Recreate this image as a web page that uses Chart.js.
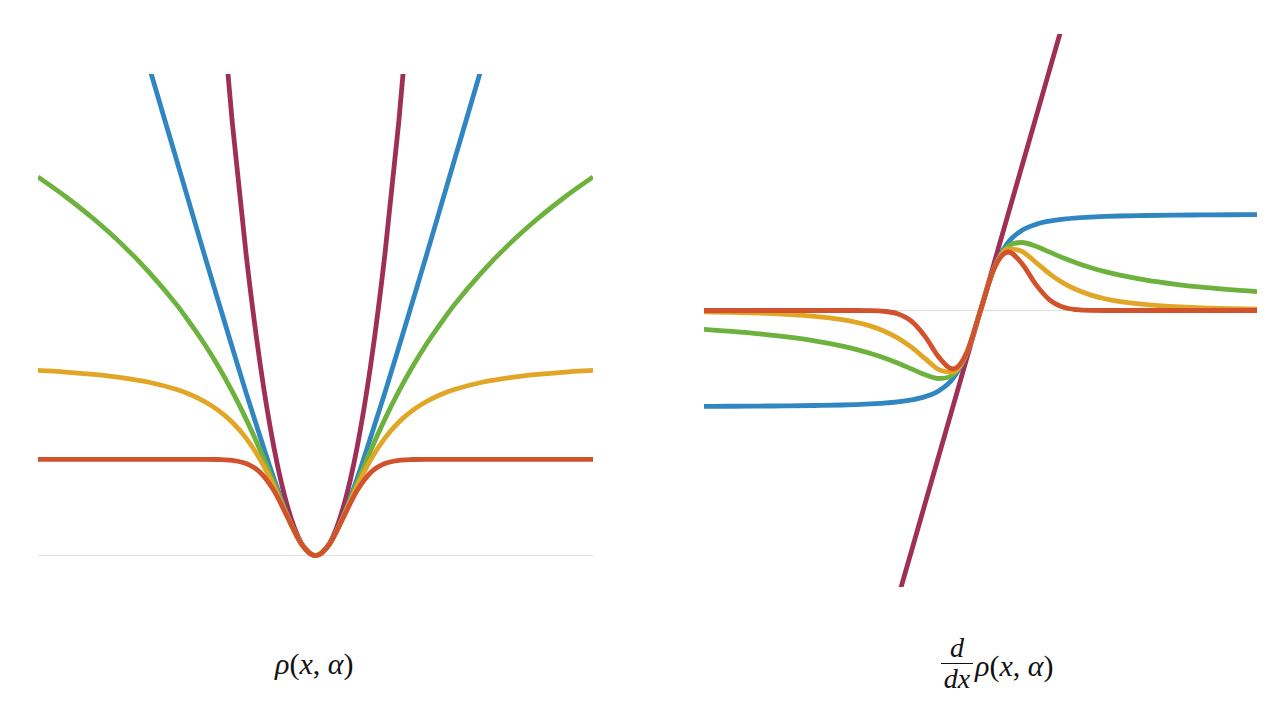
<!DOCTYPE html>
<html>
<head>
<meta charset="utf-8">
<script src="https://cdn.jsdelivr.net/npm/chart.js@4.4.1/dist/chart.umd.min.js"></script>
<style>
  body { margin: 0; background: #fff; width: 1280px; height: 720px; position: relative; overflow: hidden; }
  .plot { position: absolute; }
  .math { position: absolute; font-family: "Liberation Serif", "DejaVu Serif", serif; font-size: 30px; color: #111; white-space: nowrap; line-height: 1; }
  .math i { font-style: italic; }
  .frac { position: absolute; display: flex; flex-direction: column; align-items: center; font-size: 28px; line-height: 0.9; width: 32px; }
  .frac .num { padding: 0 0 3px 0; border-bottom: 1.4px solid #111; width: 100%; text-align: center; }
  .frac .den { padding-top: 2px; }
</style>
</head>
<body>
<div class="plot" style="left:38px; top:74px; width:555px; height:485px;"><canvas id="lossChart"></canvas></div>
<div class="plot" style="left:704px; top:34px; width:553px; height:553px;"><canvas id="derivChart"></canvas></div>
<div class="math" style="left:275px; top:649px;"><i>ρ</i>(<i>x</i>, <i>α</i>)</div>
<div class="math frac" style="left:941px; top:635px;"><span class="num"><i>d</i></span><span class="den"><i>dx</i></span></div>
<div class="math" style="left:975px; top:651px;"><i>ρ</i>(<i>x</i>, <i>α</i>)</div>
<script>
// x positions shared by all curves
const xs = [-10, -9, -8, -7, -6, -5, -4.5, -4, -3.5, -3, -2.5, -2, -1.5, -1, -0.5, 0,
  0.5, 1, 1.5, 2, 2.5, 3, 3.5, 4, 4.5, 5, 6, 7, 8, 9, 10];

// left: rho(x, alpha)
const rhoMagenta = [null, null, null, null, null, null, null, 8, 6.125, 4.5, 3.125, 2, 1.125, 0.5, 0.125, 0,
  0.125, 0.5, 1.125, 2, 3.125, 4.5, 6.125, 8, null, null, null, null, null, null, null];
const rhoBlue = [null, null, null, 6.07, 5.08, 4.1, 3.61, 3.12, 2.64, 2.16, 1.69, 1.24, 0.8, 0.41, 0.12, 0,
  0.12, 0.41, 0.8, 1.24, 1.69, 2.16, 2.64, 3.12, 3.61, 4.1, 5.08, 6.07, null, null, null];
const rhoGreen = [3.932, 3.726, 3.497, 3.239, 2.944, 2.603, 2.406, 2.197, 1.964, 1.705, 1.417, 1.099, 0.754, 0.405, 0.118, 0,
  0.118, 0.405, 0.754, 1.099, 1.417, 1.705, 1.964, 2.197, 2.406, 2.603, 2.944, 3.239, 3.497, 3.726, 3.932];
const rhoYellow = [1.923, 1.906, 1.882, 1.849, 1.8, 1.724, 1.67, 1.6, 1.508, 1.385, 1.22, 1.0, 0.72, 0.4, 0.118, 0,
  0.118, 0.4, 0.72, 1.0, 1.22, 1.385, 1.508, 1.6, 1.67, 1.724, 1.8, 1.849, 1.882, 1.906, 1.923];
const rhoRed = [1, 1, 1, 1, 1, 1, 1, 1, 0.998, 0.989, 0.956, 0.865, 0.675, 0.393, 0.118, 0,
  0.118, 0.393, 0.675, 0.865, 0.956, 0.989, 0.998, 1, 1, 1, 1, 1, 1, 1, 1];

// right: d/dx rho(x, alpha)
const dMagenta = [null, null, null, null, null, null, null, -4, -3.5, -3, -2.5, -2, -1.5, -1, -0.5, 0,
  0.5, 1, 1.5, 2, 2.5, 3, 3.5, 4, null, null, null, null, null, null, null];
const dBlue = [-0.995, -0.994, -0.992, -0.99, -0.986, -0.981, -0.976, -0.97, -0.962, -0.949, -0.928, -0.894, -0.832, -0.707, -0.447, 0,
  0.447, 0.707, 0.832, 0.894, 0.928, 0.949, 0.962, 0.97, 0.976, 0.981, 0.986, 0.99, 0.992, 0.994, 0.995];
const dGreen = [-0.196, -0.217, -0.242, -0.275, -0.316, -0.37, -0.404, -0.444, -0.491, -0.545, -0.606, -0.667, -0.706, -0.667, -0.444, 0,
  0.444, 0.667, 0.706, 0.667, 0.606, 0.545, 0.491, 0.444, 0.404, 0.37, 0.316, 0.275, 0.242, 0.217, 0.196];
const dYellow = [-0.015, -0.02, -0.028, -0.04, -0.06, -0.095, -0.122, -0.16, -0.212, -0.284, -0.381, -0.5, -0.614, -0.64, -0.443, 0,
  0.443, 0.64, 0.614, 0.5, 0.381, 0.284, 0.212, 0.16, 0.122, 0.095, 0.06, 0.04, 0.028, 0.02, 0.015];
const dRed = [0, 0, 0, 0, 0, 0, 0, -0.001, -0.008, -0.033, -0.11, -0.271, -0.487, -0.607, -0.441, 0,
  0.441, 0.607, 0.487, 0.271, 0.11, 0.033, 0.008, 0.001, 0, 0, 0, 0, 0, 0, 0];

const axisX = [-10, 10];
const axisY = [0, 0];

const colors = {
  magenta: "#9f2f57",
  blue: "#2f86c0",
  green: "#6cb23d",
  yellow: "#e2a627",
  red: "#d2522e",
};

function pts(ys, x) {
  return (x || xs).map((v, i) => ({ x: v, y: ys[i] }));
}

function curve(ys, color, order) {
  return {
    data: pts(ys),
    borderColor: color,
    borderWidth: 4.8,
    pointRadius: 0,
    fill: false,
    cubicInterpolationMode: "monotone",
    order: order,
  };
}

function baseline() {
  return {
    data: pts(axisY, axisX),
    borderColor: "#dddddd",
    borderWidth: 1,
    pointRadius: 0,
    order: 10,
  };
}

function makeChart(id, sets, yMin, yMax) {
  return new Chart(document.getElementById(id).getContext("2d"), {
    type: "line",
    data: { datasets: [baseline()].concat(sets) },
    options: {
      responsive: true,
      maintainAspectRatio: false,
      animation: false,
      layout: { padding: 0 },
      plugins: { legend: { display: false }, tooltip: { enabled: false } },
      scales: {
        x: { type: "linear", min: -10, max: 10, display: false },
        y: { min: yMin, max: yMax, display: false },
      },
    },
  });
}

makeChart("lossChart", [
  curve(rhoMagenta, colors.magenta, 5),
  curve(rhoBlue, colors.blue, 4),
  curve(rhoGreen, colors.green, 3),
  curve(rhoYellow, colors.yellow, 2),
  curve(rhoRed, colors.red, 1),
], -0.035, 5);

makeChart("derivChart", [
  curve(dMagenta, colors.magenta, 5),
  curve(dBlue, colors.blue, 4),
  curve(dGreen, colors.green, 3),
  curve(dYellow, colors.yellow, 2),
  curve(dRed, colors.red, 1),
], -2.87, 2.87);
</script>
</body>
</html>
